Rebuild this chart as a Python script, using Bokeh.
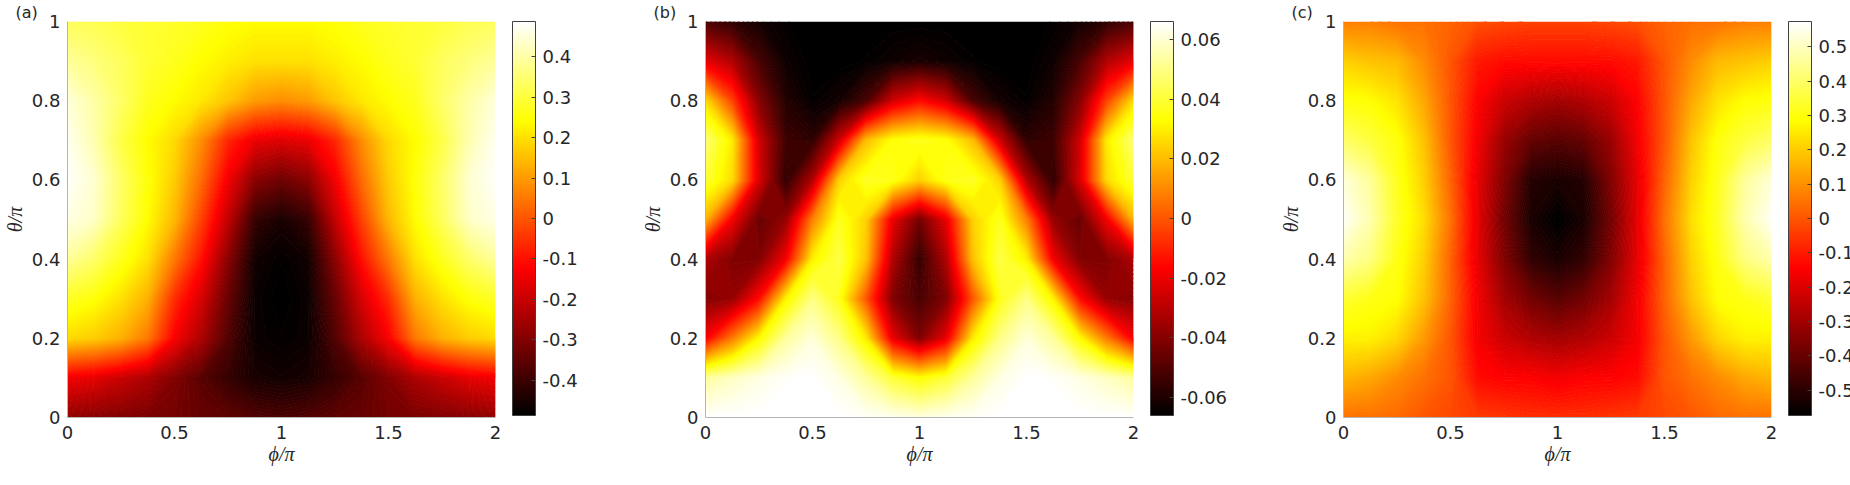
import numpy as np
from bokeh.plotting import figure
from bokeh.layouts import row
from bokeh.models import (LinearColorMapper, ColorBar, FixedTicker,
                          CustomJSTickFormatter, Range1d)
from bokeh.embed import file_html
from bokeh.resources import INLINE

# ---------------- data ----------------
phi = [0, 0.125, 0.25, 0.375, 0.5, 0.625, 0.75, 0.875, 1.0,
       1.125, 1.25, 1.375, 1.5, 1.625, 1.75, 1.875, 2.0]          # phi / pi
theta = [0, 0.1, 0.2, 0.3, 0.4, 0.5, 0.6, 0.7, 0.8, 0.9, 1.0]     # theta / pi

phi_ticks = [0, 0.5, 1, 1.5, 2]
theta_ticks = [0, 0.2, 0.4, 0.6, 0.8, 1]

# panel (a): rows are theta = 0 ... 1, columns phi = 0 ... 2
field_a = [
    [-0.28, -0.29, -0.30, -0.31, -0.32, -0.34, -0.35, -0.37, -0.38, -0.37, -0.35, -0.34, -0.32, -0.31, -0.30, -0.29, -0.28],
    [-0.14, -0.16, -0.20, -0.24, -0.30, -0.36, -0.41, -0.45, -0.46, -0.45, -0.41, -0.36, -0.30, -0.24, -0.20, -0.16, -0.14],
    [0.19, 0.17, 0.13, 0.05, -0.13, -0.24, -0.37, -0.47, -0.48, -0.47, -0.37, -0.24, -0.13, 0.05, 0.13, 0.17, 0.19],
    [0.28, 0.25, 0.20, 0.13, -0.06, -0.18, -0.34, -0.47, -0.487, -0.47, -0.34, -0.18, -0.06, 0.13, 0.20, 0.25, 0.28],
    [0.39, 0.34, 0.27, 0.20, 0.05, -0.10, -0.29, -0.46, -0.48, -0.46, -0.29, -0.10, 0.05, 0.20, 0.27, 0.34, 0.39],
    [0.46, 0.43, 0.33, 0.24, 0.14, -0.03, -0.21, -0.41, -0.45, -0.41, -0.21, -0.03, 0.14, 0.24, 0.33, 0.43, 0.46],
    [0.48, 0.44, 0.34, 0.25, 0.17, 0.03, -0.14, -0.29, -0.33, -0.29, -0.14, 0.03, 0.17, 0.25, 0.34, 0.44, 0.48],
    [0.47, 0.41, 0.31, 0.24, 0.19, 0.08, -0.07, -0.15, -0.17, -0.15, -0.07, 0.08, 0.19, 0.24, 0.31, 0.41, 0.47],
    [0.45, 0.40, 0.34, 0.27, 0.24, 0.21, 0.16, 0.10, 0.08, 0.10, 0.16, 0.21, 0.24, 0.27, 0.34, 0.40, 0.45],
    [0.39, 0.36, 0.33, 0.29, 0.27, 0.24, 0.22, 0.20, 0.20, 0.20, 0.22, 0.24, 0.27, 0.29, 0.33, 0.36, 0.39],
    [0.33, 0.32, 0.30, 0.29, 0.28, 0.27, 0.25, 0.24, 0.24, 0.24, 0.25, 0.27, 0.28, 0.29, 0.30, 0.32, 0.33],
]

# panel (b)
field_b = [
    [0.066, 0.066, 0.066, 0.066, 0.066, 0.066, 0.065, 0.064, 0.062, 0.064, 0.065, 0.066, 0.066, 0.066, 0.066, 0.066, 0.066],
    [0.053, 0.058, 0.062, 0.065, 0.066, 0.062, 0.053, 0.040, 0.033, 0.040, 0.053, 0.062, 0.066, 0.065, 0.062, 0.058, 0.053],
    [-0.018, 0.007, 0.032, 0.053, 0.061, 0.050, 0.029, -0.021, -0.041, -0.021, 0.029, 0.050, 0.061, 0.053, 0.032, 0.007, -0.018],
    [-0.040, -0.037, -0.015, 0.030, 0.050, 0.036, 0.000, -0.041, -0.052, -0.041, 0.000, 0.036, 0.050, 0.030, -0.015, -0.037, -0.040],
    [-0.032, -0.041, -0.041, -0.019, 0.030, 0.042, 0.021, -0.032, -0.056, -0.032, 0.021, 0.042, 0.030, -0.019, -0.041, -0.041, -0.032],
    [0.018, -0.019, -0.046, -0.037, 0.008, 0.037, 0.024, -0.021, -0.044, -0.021, 0.024, 0.037, 0.008, -0.037, -0.046, -0.019, 0.018],
    [0.040, 0.026, -0.024, -0.057, -0.032, 0.024, 0.038, 0.036, 0.024, 0.036, 0.038, 0.024, -0.032, -0.057, -0.024, 0.026, 0.040],
    [0.048, 0.029, -0.026, -0.054, -0.057, -0.026, 0.020, 0.034, 0.037, 0.034, 0.020, -0.026, -0.057, -0.054, -0.026, 0.029, 0.048],
    [0.026, -0.004, -0.040, -0.059, -0.065, -0.062, -0.052, -0.026, -0.015, -0.026, -0.052, -0.062, -0.065, -0.059, -0.040, -0.004, 0.026],
    [-0.021, -0.032, -0.052, -0.063, -0.066, -0.066, -0.065, -0.063, -0.061, -0.063, -0.065, -0.066, -0.066, -0.063, -0.052, -0.032, -0.021],
    [-0.052, -0.057, -0.062, -0.065, -0.066, -0.066, -0.066, -0.066, -0.066, -0.066, -0.066, -0.066, -0.066, -0.065, -0.062, -0.057, -0.052],
]

# panel (c)
field_c = [
    [0.046, 0.046, 0.034, 0.000, -0.023, -0.046, -0.057, -0.069, -0.069, -0.069, -0.057, -0.046, -0.023, 0.000, 0.034, 0.046, 0.046],
    [0.161, 0.138, 0.092, 0.046, 0.000, -0.126, -0.144, -0.144, -0.161, -0.144, -0.144, -0.126, 0.000, 0.046, 0.092, 0.138, 0.161],
    [0.264, 0.264, 0.220, 0.115, 0.000, -0.161, -0.230, -0.275, -0.298, -0.275, -0.230, -0.161, 0.000, 0.115, 0.220, 0.264, 0.264],
    [0.344, 0.310, 0.290, 0.184, 0.023, -0.161, -0.298, -0.379, -0.425, -0.379, -0.298, -0.161, 0.023, 0.184, 0.290, 0.310, 0.344],
    [0.482, 0.430, 0.310, 0.207, 0.023, -0.184, -0.356, -0.488, -0.528, -0.488, -0.356, -0.184, 0.023, 0.207, 0.310, 0.430, 0.482],
    [0.562, 0.482, 0.330, 0.230, 0.046, -0.184, -0.379, -0.528, -0.574, -0.528, -0.379, -0.184, 0.046, 0.230, 0.330, 0.482, 0.562],
    [0.528, 0.459, 0.320, 0.207, 0.023, -0.184, -0.356, -0.511, -0.528, -0.511, -0.356, -0.184, 0.023, 0.207, 0.320, 0.459, 0.528],
    [0.402, 0.356, 0.300, 0.184, 0.000, -0.161, -0.316, -0.402, -0.425, -0.402, -0.316, -0.161, 0.000, 0.184, 0.300, 0.356, 0.402],
    [0.298, 0.287, 0.240, 0.138, 0.000, -0.144, -0.230, -0.275, -0.298, -0.275, -0.230, -0.144, 0.000, 0.138, 0.240, 0.287, 0.298],
    [0.207, 0.184, 0.170, 0.092, 0.000, -0.103, -0.126, -0.126, -0.126, -0.126, -0.126, -0.103, 0.000, 0.092, 0.170, 0.184, 0.207],
    [0.069, 0.069, 0.046, 0.046, 0.023, -0.011, -0.023, -0.034, -0.034, -0.034, -0.023, -0.011, 0.023, 0.046, 0.046, 0.069, 0.069],
]

range_a, range_b, range_c = 0.487, 0.066, 0.574
cticks_a = [-0.4, -0.3, -0.2, -0.1, 0, 0.1, 0.2, 0.3, 0.4]
cticks_b = [-0.06, -0.04, -0.02, 0, 0.02, 0.04, 0.06]
cticks_c = [-0.5, -0.4, -0.3, -0.2, -0.1, 0, 0.1, 0.2, 0.3, 0.4, 0.5]
tags = ["(a)", "(b)", "(c)"]

# ---------------- layout constants ----------------
FRAME_W, FRAME_H = 428, 396
BORDER_L, BORDER_T, BORDER_B = 60, 19, 54
N_BANDS = 150   # number of colour bands used to shade the field


# MATLAB-like "hot" colour map
def hot_palette(n=256):
    cols = []
    for i in range(n):
        t = i / (n - 1)
        r = min(1.0, t / 0.375)
        g = min(1.0, max(0.0, (t - 0.375) / 0.375))
        b = min(1.0, max(0.0, (t - 0.75) / 0.25))
        cols.append("#%02x%02x%02x" % (round(r * 255), round(g * 255), round(b * 255)))
    return cols


HOT = hot_palette()
TXT = "#262626"
FMT = "return String(tick);"


def make_panel(field, rng, cticks, tag, right_border):
    z = np.array(field, dtype=float)
    mapper = LinearColorMapper(palette=HOT, low=-rng, high=rng)
    p = figure(frame_width=FRAME_W, frame_height=FRAME_H,
               x_range=Range1d(phi[0], phi[-1]), y_range=Range1d(theta[0], theta[-1]),
               min_border_left=BORDER_L, min_border_right=right_border,
               min_border_top=BORDER_T, min_border_bottom=BORDER_B,
               output_backend="svg", toolbar_location=None, tools="")

    # shaded field: Bokeh's own filled contours of the read grid, many thin bands
    levels = list(np.linspace(-rng, rng, N_BANDS + 1))
    pad = 1e-3 * rng
    levels[0] = min(levels[0], float(z.min())) - pad     # outer bands take in the extremes
    levels[-1] = max(levels[-1], float(z.max())) + pad
    p.contour(x=phi, y=theta, z=z, levels=levels,
              fill_color=hot_palette(N_BANDS), line_color=hot_palette(N_BANDS + 1),
              line_width=1.2)

    p.grid.visible = False
    p.outline_line_color = None
    p.background_fill_color = "white"

    for ax in (p.xaxis[0], p.yaxis[0]):
        ax.major_tick_line_color = None
        ax.minor_tick_line_color = None
        ax.major_tick_out = 0
        ax.major_tick_in = 0
        ax.axis_line_color = "#b4b4b4"
        ax.axis_line_width = 1
        ax.formatter = CustomJSTickFormatter(code=FMT)
        ax.major_label_text_font = "DejaVu Sans"
        ax.major_label_text_font_size = "18px"
        ax.major_label_text_color = TXT
        ax.axis_label_text_font = "Liberation Serif"
        ax.axis_label_text_font_style = "italic"
        ax.axis_label_text_font_size = "20px"
        ax.axis_label_text_color = TXT

    p.xaxis.ticker = FixedTicker(ticks=phi_ticks)
    p.yaxis.ticker = FixedTicker(ticks=theta_ticks)
    p.xaxis.axis_label = "\u03d5/\u03c0"
    p.yaxis.axis_label = "\u03b8/\u03c0"
    p.xaxis.major_label_standoff = 8
    p.xaxis.axis_label_standoff = 1
    p.yaxis.major_label_standoff = 7
    p.yaxis.axis_label_standoff = 3

    cb = ColorBar(color_mapper=mapper, location=(FRAME_W + 17, 2), width=23, height=FRAME_H - 2,
                  padding=0, margin=0,
                  ticker=FixedTicker(ticks=cticks),
                  formatter=CustomJSTickFormatter(code=FMT),
                  label_standoff=7, major_tick_in=4, major_tick_out=0,
                  major_tick_line_color="#404040", minor_tick_line_color=None,
                  bar_line_color="#404040", bar_line_width=1,
                  border_line_color=None, background_fill_color=None,
                  major_label_text_font="DejaVu Sans",
                  major_label_text_font_size="18px",
                  major_label_text_color=TXT)
    p.add_layout(cb)

    # panel tag as a left-aligned title, shifted left of the frame
    p.title.text = tag
    p.title.align = "left"
    p.title.offset = -52
    p.title.standoff = 0
    p.title.text_font = "DejaVu Sans"
    p.title.text_font_size = "16px"
    p.title.text_font_style = "normal"
    p.title.text_color = TXT
    return p


PANEL_W = 631
pa = make_panel(field_a, range_a, cticks_a, tags[0], PANEL_W - BORDER_L - FRAME_W)
pb = make_panel(field_b, range_b, cticks_b, tags[1], PANEL_W - BORDER_L - FRAME_W)
pc = make_panel(field_c, range_c, cticks_c, tags[2], 84)

layout = row(pa, pb, pc)
open("out.html", "w").write(file_html(layout, INLINE))
